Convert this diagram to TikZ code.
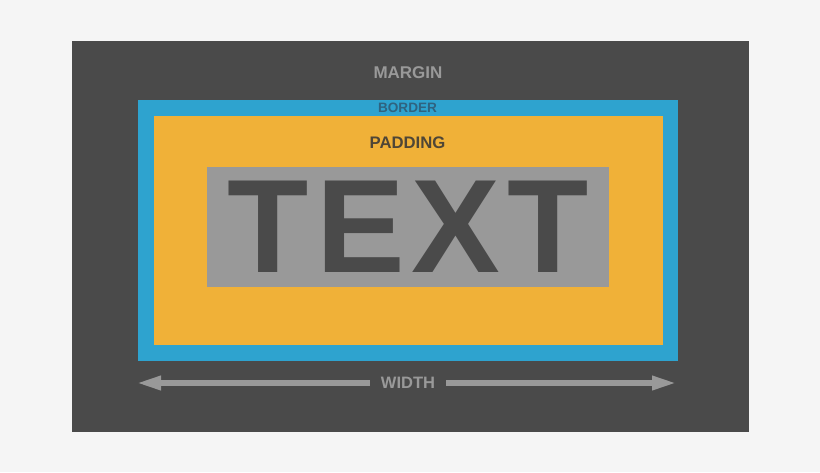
\documentclass[tikz,border=0pt]{standalone}
\usepackage{fontspec}
\setmainfont{Liberation Sans}
\usetikzlibrary{arrows.meta}
\definecolor{bgcol}{HTML}{F5F5F5}
\definecolor{margincol}{HTML}{4A4A4A}
\definecolor{bordercol}{HTML}{2EA3CF}
\definecolor{paddingcol}{HTML}{F0B138}
\definecolor{contentcol}{HTML}{999999}
\definecolor{labelgray}{HTML}{999999}
\definecolor{bordertext}{HTML}{2F6380}
\definecolor{paddingtext}{HTML}{4F4636}
\tikzset{
  lbl/.style={inner sep=0pt, font=\bfseries},
  widtharrow/.style={draw=labelgray, line width=6pt, -{Triangle[length=25pt,width=13pt]}}
}
\begin{document}
\begin{tikzpicture}[x=1pt,y=-1pt]
  \useasboundingbox (0,0) rectangle (820,472);
  \fill[bgcol] (0,0) rectangle (820,472);
  % boxes
  \fill[margincol] (72,41) rectangle (749,432);
  \fill[bordercol] (138,100) rectangle (678,361);
  \fill[paddingcol] (154,116) rectangle (663,345);
  \fill[contentcol] (207,167) rectangle (609,287);
  % labels
  \node[lbl, text=labelgray, font=\bfseries\fontsize{17}{17}\selectfont] (margin) at (408,73) {MARGIN};
  \node[lbl, text=bordertext, font=\bfseries\fontsize{13.6}{13.6}\selectfont] (border) at (407.5,108) {BORDER};
  \node[lbl, text=paddingtext, font=\bfseries\fontsize{16.7}{16.7}\selectfont] (padding) at (407.5,143) {PADDING};
  \node[inner sep=0pt, anchor=base, text=margincol, font=\bfseries\fontsize{133}{133}\selectfont] (content) at (408.5,272) {T\kern7.5pt E\kern6.5pt X\kern7.5pt T};
  % width
  \node[lbl, inner xsep=11pt, text=labelgray, font=\bfseries\fontsize{16.5}{16.5}\selectfont] (width) at (408,383) {WIDTH};
  \coordinate (wl) at (136,383);
  \coordinate (wr) at (677,383);
  \draw[widtharrow] (width.west) -- (wl);
  \draw[widtharrow] (width.east) -- (wr);
\end{tikzpicture}
\end{document}
